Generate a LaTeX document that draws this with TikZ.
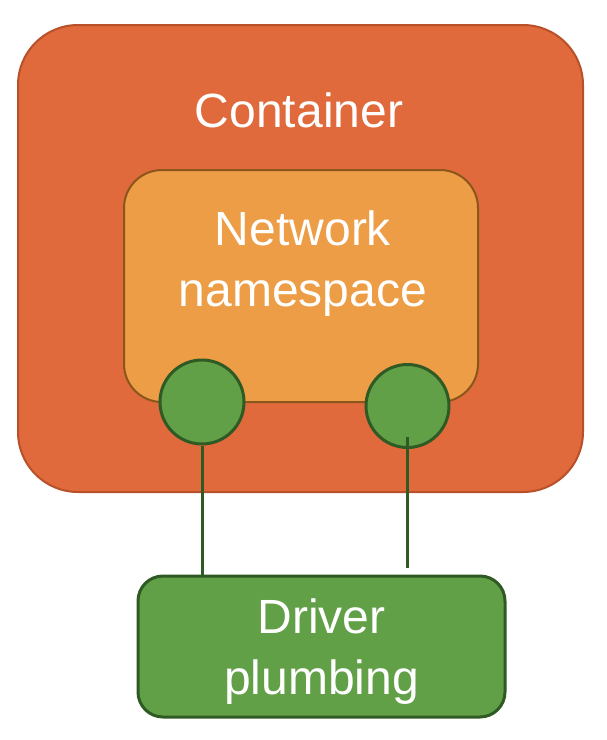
\documentclass[tikz,border=0pt]{standalone}
\usepackage{fontspec}
\setmainfont{Liberation Sans}
\definecolor{contfill}{HTML}{E06A3B}
\definecolor{contdraw}{HTML}{B8502A}
\definecolor{nsfill}{HTML}{EC9D45}
\definecolor{nsdraw}{HTML}{8A561C}
\definecolor{grfill}{HTML}{62A048}
\definecolor{grdraw}{HTML}{2F5A24}
\begin{document}
\begin{tikzpicture}[x=1pt,y=-1pt,
  box/.style={rectangle,inner sep=0pt,line width=2pt},
  lbl/.style={text=white,inner sep=0pt,align=center,font=\fontsize{48}{61}\selectfont},
  port/.style={circle,inner sep=0pt,fill=grfill,draw=grdraw,line width=3pt},
  wire/.style={draw=grdraw,line width=3pt}]
\useasboundingbox (0,0) rectangle (606,740);
\fill[white] (0,0) rectangle (606,740);
\node[box,fill=contfill,draw=contdraw,rounded corners=60pt,minimum width=565pt,minimum height=467pt] (cont) at (300.5,258.5) {};
\node[lbl,anchor=base] (conttxt) at (299,127) {Container};
\node[box,fill=nsfill,draw=nsdraw,rounded corners=38pt,minimum width=354pt,minimum height=232pt] (ns) at (301,286) {};
\node[lbl,anchor=north] (nstxt) at (303,211) {Network\\namespace};
\node[box,fill=grfill,draw=grdraw,line width=3pt,rounded corners=25pt,minimum width=367pt,minimum height=141pt] (drv) at (321.5,646.5) {};
\node[lbl,anchor=north] (drvtxt) at (321.5,599) {Driver\\plumbing};
\node[port,minimum size=84pt] (p1) at (202,402) {};
\node[port,minimum size=83pt] (p2) at (407.5,406) {};
\coordinate (p2in) at (407.5,437);
\coordinate (p2end) at (407.5,568);
\draw[wire] (p1.south) -- (p1.south |- drv.north);
\draw[wire] (p2in) -- (p2end);
\end{tikzpicture}
\end{document}
